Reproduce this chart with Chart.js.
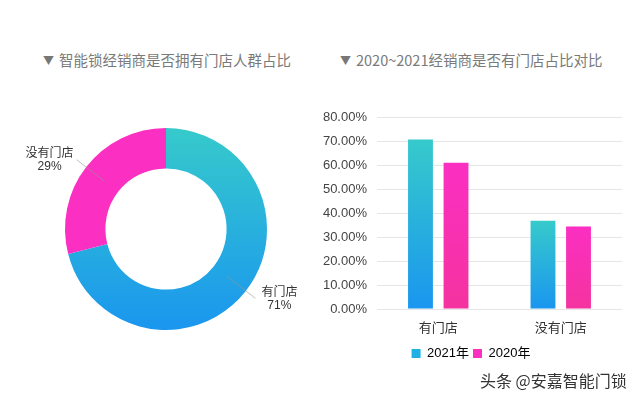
<!DOCTYPE html>
<html>
<head>
<meta charset="utf-8">
<script src="https://cdn.jsdelivr.net/npm/chart.js@4/dist/chart.umd.min.js"></script>
<style>
  html, body { margin: 0; padding: 0; background: #fff; }
  body { width: 640px; height: 399px; position: relative; overflow: hidden;
         font-family: "Liberation Sans", "Noto Sans CJK SC", sans-serif; }
  .title { position: absolute; top: 49px; color: #7a7a7a; font-size: 14.5px;
           font-family: "Noto Sans CJK SC", sans-serif; white-space: nowrap; }
  .title span { font-size: 11px; color: #777; margin-right: 5px; position: relative; top: -1px; }
  #t1 { left: 43px; }
  #t2 { left: 340px; }
  #pieWrap { position: absolute; left: 0; top: 0; width: 320px; height: 399px; }
  #barWrap { position: absolute; left: 320px; top: 100px; width: 320px; height: 270px; }
  #mark { position: absolute; left: 480px; top: 368px; font-size: 16px; color: #333;
          font-family: "Noto Sans CJK SC", sans-serif;
          text-shadow: 0 0 2px #fff, 0 0 2px #fff; }
</style>
</head>
<body>
<div class="title" id="t1"><span>▼</span>智能锁经销商是否拥有门店人群占比</div>
<div class="title" id="t2"><span>▼</span>2020~2021经销商是否有门店占比对比</div>
<div id="pieWrap"><canvas id="pie"></canvas></div>
<div id="barWrap"><canvas id="bar"></canvas></div>
<div id="mark">头条 @安嘉智能门锁</div>
<script>
// doughnut data
const pieLabels = ['有门店', '没有门店'];
const pieValues = [71, 29];

// bar data
const barCategories = ['有门店', '没有门店'];
const series2021 = [70.9, 36.9];
const series2020 = [61.2, 34.5];
const yTicks = [0, 10, 20, 30, 40, 50, 60, 70, 80];

const TEAL = '#36cacb';
const BLUE = '#1a96ef';
const PINK = '#fb2fc2';
const PINK_DARK = '#f4339f';

// vertical gradient for a bar, from its own top to the axis
function barGradient(ctx, top, bottom) {
    const chart = ctx.chart;
    const area = chart.chartArea;
    if (!area) return top;
    const v = ctx.parsed ? ctx.parsed.y : null;
    if (v == null) return top;
    const ys = chart.scales.y;
    const g = chart.ctx.createLinearGradient(0, ys.getPixelForValue(v), 0, ys.getPixelForValue(0));
    g.addColorStop(0, top);
    g.addColorStop(1, bottom);
    return g;
}

// labels with leader lines for the doughnut
const pieLabelPlugin = {
    id: 'pieLabels',
    afterDatasetsDraw(chart) {
        const ctx = chart.ctx;
        const meta = chart.getDatasetMeta(0);
        const total = pieValues.reduce((a, b) => a + b, 0);
        meta.data.forEach((arc, i) => {
            const mid = (arc.startAngle + arc.endAngle) / 2;
            const c = Math.cos(mid), s = Math.sin(mid);
            const r1 = arc.outerRadius * 0.77, r2 = arc.outerRadius * 1.12;
            const x1 = arc.x + c * r1, y1 = arc.y + s * r1;
            const x2 = arc.x + c * r2, y2 = arc.y + s * r2;
            ctx.save();
            ctx.strokeStyle = 'rgba(150,150,150,0.6)';
            ctx.lineWidth = 1;
            ctx.beginPath();
            ctx.moveTo(x1, y1);
            ctx.lineTo(x2, y2);
            ctx.stroke();
            const tx = c < 0 ? x2 - 27 : x2 + 24;
            ctx.fillStyle = '#333';
            ctx.textAlign = 'center';
            ctx.textBaseline = 'middle';
            ctx.font = '12px "Noto Sans CJK SC", sans-serif';
            ctx.fillText(pieLabels[i], tx, y2 - 7);
            ctx.font = '12px "Liberation Sans", sans-serif';
            ctx.fillText(Math.round(pieValues[i] / total * 100) + '%', tx, y2 + 7);
            ctx.restore();
        });
    }
};

new Chart(document.getElementById('pie'), {
    type: 'doughnut',
    data: {
        labels: pieLabels,
        datasets: [{
            data: pieValues,
            backgroundColor: (ctx) => {
                const area = ctx.chart.chartArea;
                if (!area) return TEAL;
                if (ctx.dataIndex === 1) return PINK;
                const g = ctx.chart.ctx.createLinearGradient(0, area.top, 0, area.bottom);
                g.addColorStop(0, TEAL);
                g.addColorStop(1, BLUE);
                return g;
            },
            borderWidth: 0
        }]
    },
    options: {
        responsive: true,
        maintainAspectRatio: false,
        animation: false,
        cutout: '60%',
        layout: { padding: { left: 65, right: 53, top: 128, bottom: 69 } },
        plugins: {
            legend: { display: false },
            tooltip: { enabled: false }
        }
    },
    plugins: [pieLabelPlugin]
});

new Chart(document.getElementById('bar'), {
    type: 'bar',
    data: {
        labels: barCategories,
        datasets: [{
            label: '2021年',
            data: series2021,
            backgroundColor: (ctx) => barGradient(ctx, TEAL, BLUE),
            borderWidth: 0,
            categoryPercentage: 0.58,
            barPercentage: 0.7
        }, {
            label: '2020年',
            data: series2020,
            backgroundColor: (ctx) => barGradient(ctx, PINK, PINK_DARK),
            borderWidth: 0,
            categoryPercentage: 0.58,
            barPercentage: 0.7
        }]
    },
    options: {
        responsive: true,
        maintainAspectRatio: false,
        animation: false,
        layout: { padding: { left: 0, right: 18, top: 17, bottom: 0 } },
        plugins: {
            legend: {
                position: 'bottom',
                labels: {
                    boxWidth: 9,
                    boxHeight: 9,
                    padding: 4,
                    color: '#333',
                    font: { size: 13, family: '"Liberation Sans", "Noto Sans CJK SC", sans-serif' },
                    generateLabels: (chart) => chart.data.datasets.map((ds, i) => ({
                        text: ds.label,
                        fillStyle: i === 0 ? '#1fb0e4' : PINK,
                        strokeStyle: 'transparent',
                        lineWidth: 0,
                        datasetIndex: i
                    }))
                }
            },
            tooltip: { enabled: false }
        },
        scales: {
            x: {
                grid: { display: false },
                border: { display: false },
                ticks: {
                    color: '#333',
                    padding: 2,
                    font: { size: 13, family: '"Noto Sans CJK SC", sans-serif' }
                },
                afterFit: (scale) => { scale.height = 34; }
            },
            y: {
                min: 0,
                max: 80,
                afterBuildTicks: (scale) => { scale.ticks = yTicks.map(v => ({ value: v })); },
                grid: { color: '#e6e6e6', drawTicks: false },
                border: { display: false },
                ticks: {
                    color: '#444',
                    padding: 10,
                    font: { size: 13, family: '"Liberation Sans", sans-serif' },
                    callback: (v) => v.toFixed(2) + '%'
                },
                afterFit: (scale) => { scale.width = 57; }
            }
        }
    }
});
</script>
</body>
</html>
